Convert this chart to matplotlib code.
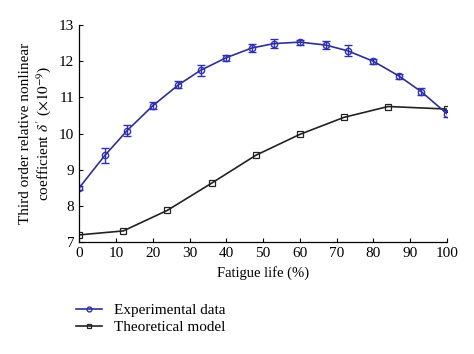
import numpy as np
import matplotlib
matplotlib.use('Agg')
import matplotlib.pyplot as plt
from matplotlib.lines import Line2D

# experimental data (with error bars)
exp_x = [0, 7, 13, 20, 27, 33, 40, 47, 53, 60, 67, 73, 80, 87, 93, 100]
exp_y = [8.5, 9.4, 10.08, 10.77, 11.35, 11.75, 12.1, 12.37, 12.49, 12.53,
         12.45, 12.29, 12.0, 11.59, 11.16, 10.55]
exp_err = [0.05, 0.2, 0.15, 0.1, 0.1, 0.15, 0.08, 0.12, 0.12, 0.07,
           0.1, 0.15, 0.07, 0.07, 0.1, 0.1]

# theoretical model
th_x = [0, 12, 24, 36, 48, 60, 72, 84, 100]
th_y = [7.2, 7.31, 7.88, 8.63, 9.4, 9.98, 10.45, 10.75, 10.68]

plt.rcParams['font.family'] = ['Liberation Serif', 'DejaVu Serif']
plt.rcParams['mathtext.fontset'] = 'stix'
plt.rcParams['font.size'] = 11

fig = plt.figure(figsize=(4.74, 3.54), dpi=100)
ax = fig.add_axes([0.167, 0.316, 0.776, 0.613])

blue = '#2f2fb8'
ax.errorbar(exp_x, exp_y, yerr=exp_err, color='#303090', ecolor=blue,
            marker='o', mfc='none', mec=blue, ms=4.5, mew=1.0, lw=1.2,
            capsize=3, elinewidth=1.0, capthick=1.0)
ax.plot(th_x, th_y, color='#222222', marker='s', mfc='none', mec='#222222',
        ms=4, mew=0.9, lw=1.2)

ax.set_xlim(0, 100)
ax.set_ylim(7, 13)
ax.set_xticks(np.arange(0, 101, 10))
ax.set_yticks(np.arange(7, 14, 1))
ax.tick_params(direction='in', length=3, width=0.8, labelsize=11)
for s in ['top', 'right']:
    ax.spines[s].set_visible(False)
ax.spines['left'].set_linewidth(0.9)
ax.spines['bottom'].set_linewidth(0.9)

ax.set_xlabel('Fatigue life (%)', labelpad=4, fontsize=10.5)
ax.set_ylabel("Third order relative nonlinear\n"
              r"coefficient $\delta'$ ($\times10^{-9}$)", labelpad=4,
              fontsize=11)

handles = [
    Line2D([], [], color='#303090', marker='o', mfc='none', mec=blue,
           ms=3.5, mew=1.0, lw=1.2),
    Line2D([], [], color='#222222', marker='s', mfc='none', mec='#222222',
           ms=3.5, mew=0.9, lw=1.2),
]
fig.legend(handles, ['Experimental data', 'Theoretical model'],
           loc='upper left', bbox_to_anchor=(0.148, 0.16), frameon=False,
           handlelength=1.7, handletextpad=0.8, labelspacing=0.2,
           borderaxespad=0, fontsize=11)

fig.savefig('out.png', dpi=100)
